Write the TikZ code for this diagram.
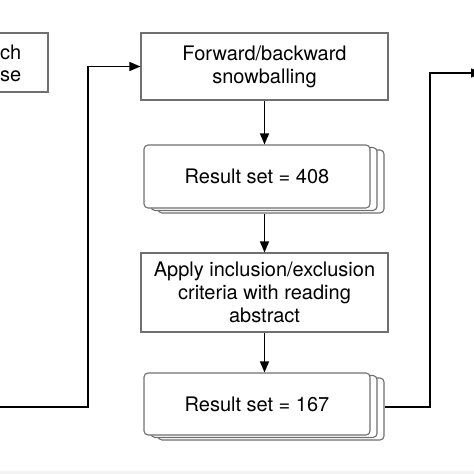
\documentclass[tikz,border=0pt]{standalone}
\usepackage{fontspec}
\setmainfont{TeX Gyre Heros}
\usetikzlibrary{arrows.meta,shadows}
\definecolor{boxgray}{HTML}{707070}
\definecolor{stripgray}{HTML}{F3F3F3}
\begin{document}
\begin{tikzpicture}[x=1pt,y=-1pt]
      \useasboundingbox (0,0) rectangle (474,474);
      \clip (0,0) rectangle (474,474);
      \fill[stripgray] (0,471) rectangle (474,474);

      \begin{scope}[every node/.style={rectangle, draw=boxgray, line width=1.1pt, fill=white,
          align=center, inner sep=0pt, font=\fontsize{20}{23}\selectfont}]
        \node[minimum width=200pt, minimum height=59pt] (1) at (-52,62.5) {};
        \node[minimum width=247pt, minimum height=67pt] (2) at (264.5,66.5) {Forward/backward\\snowballing};
        \node[minimum width=226pt, minimum height=63pt, rounded corners=4pt,
          double copy shadow={shadow xshift=7pt, shadow yshift=-2.5pt, fill=white, draw=boxgray, line width=1.1pt}]
          (3) at (257,176.5) {Result set = 408};
        \node[minimum width=247pt, minimum height=79pt] (4) at (264.5,292.5)
          {Apply inclusion/exclusion\\criteria with reading\\abstract};
        \node[minimum width=226pt, minimum height=62pt, rounded corners=4pt,
          double copy shadow={shadow xshift=7pt, shadow yshift=-2.5pt, fill=white, draw=boxgray, line width=1.1pt}]
          (5) at (257,404) {Result set = 167};
      \end{scope}

      \node[anchor=east, align=right, inner sep=0pt, font=\fontsize{20}{22}\selectfont] (1t) at (21.5,63.5) {ch\\se};

      \coordinate (6) at (482,73);
      \coordinate (7) at (-2,407);

      \begin{scope}[every edge/.style={draw, line width=1.3pt, -{Triangle[length=11pt,width=9pt]}}]
        \path (2.south) edge (2.south |- 3.north);
        \path (2.south |- 3.south) edge[shorten <=5pt] (4.north);
        \path (4.south) edge (4.south |- 5.north);
      \end{scope}

      \draw[line width=1.3pt, -{Triangle[length=11pt,width=9pt]}] (7) -| (88,66.5) -- (2.west);
      \draw[line width=1.3pt, -{Triangle[length=11pt,width=9pt]}, shorten <=14pt]
        ([yshift=-3pt]5.east) -| (430,73) -- (6);

    \end{tikzpicture}
\end{document}
